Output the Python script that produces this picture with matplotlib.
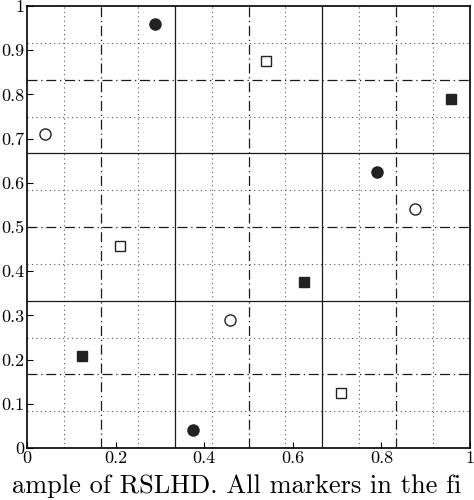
import matplotlib
matplotlib.use("Agg")
import matplotlib.pyplot as plt

plt.rcParams['font.family'] = 'serif'
plt.rcParams['font.serif'] = ['cmr10', 'DejaVu Serif']
plt.rcParams['axes.formatter.use_mathtext'] = True

fc_x = [0.29, 0.79, 0.375]; fc_y = [0.96, 0.625, 0.04]
oc_x = [0.04, 0.875, 0.458]; oc_y = [0.71, 0.54, 0.29]
fs_x = [0.958, 0.625, 0.125]; fs_y = [0.79, 0.375, 0.208]
os_x = [0.54, 0.21, 0.708]; os_y = [0.875, 0.458, 0.125]
xticks = [0, 0.2, 0.4, 0.6, 0.8, 1]
yticks = [0, 0.1, 0.2, 0.3, 0.4, 0.5, 0.6, 0.7, 0.8, 0.9, 1]

fig = plt.figure(figsize=(4.74, 5.0), dpi=100)
ax = fig.add_axes([27/474, 52/500, 443/474, 442/500])
for v in [1/12, 3/12, 5/12, 7/12, 9/12, 11/12]:
    ax.axvline(v, color='0.35', lw=0.8, ls=(0, (1, 3)))
    ax.axhline(v, color='0.35', lw=0.8, ls=(0, (1, 3)))
for v in [1/6, 1/2, 5/6]:
    ax.axvline(v, color='0.1', lw=0.9, ls=(0, (8, 3, 1, 3)))
    ax.axhline(v, color='0.1', lw=0.9, ls=(0, (8, 3, 1, 3)))
for v in [1/3, 2/3]:
    ax.axvline(v, color='0.1', lw=0.9)
    ax.axhline(v, color='0.1', lw=0.9)
ax.plot(fc_x, fc_y, 'o', ms=8, color='#222222', ls='none')
ax.plot(oc_x, oc_y, 'o', ms=8, mfc='white', mec='#222222', ls='none')
ax.plot(fs_x, fs_y, 's', ms=6.5, color='#222222', ls='none')
ax.plot(os_x, os_y, 's', ms=6.5, mfc='white', mec='#222222', ls='none')
ax.set_xlim(0, 1); ax.set_ylim(0, 1)
ax.set_xticks(xticks); ax.set_yticks(yticks)
ax.set_xticklabels(['0', '0.2', '0.4', '0.6', '0.8', '1'])
ax.set_yticklabels(['0', '0.1', '0.2', '0.3', '0.4', '0.5', '0.6', '0.7', '0.8', '0.9', '1'])
ax.tick_params(direction='in', labelsize=13, length=4, pad=2)
for s in ax.spines.values():
    s.set_linewidth(1.2)
fig.text(0.5, 0.028, 'ample of RSLHD. All markers in the fi', fontsize=19, ha='center', va='center')
fig.savefig('out.png', dpi=100)
